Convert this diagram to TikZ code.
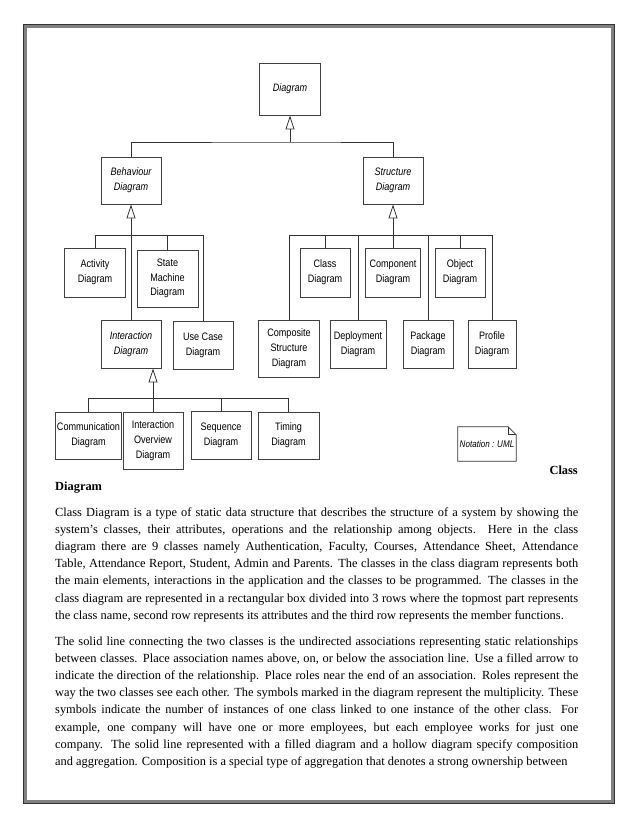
\documentclass[tikz,border=0pt]{standalone}
\usepackage{fontspec}
\setmainfont{Liberation Serif}
\newfontfamily\boxfont[FakeStretch=0.84]{Liberation Sans}
\usetikzlibrary{arrows.meta}

\begin{document}
\begin{tikzpicture}[x=1pt,y=-1pt,
    box/.style={draw=black!75,line width=0.9pt,align=center,inner sep=1pt,font=\boxfont\fontsize{10.8}{14.8}\selectfont},
    abs/.style={box,font=\boxfont\itshape\fontsize{10.8}{14.8}\selectfont},
    gen/.style={draw=black!80,line width=0.8pt,-{Triangle[open,length=14pt,width=9pt]}},
    link/.style={draw=black!80,line width=0.8pt},
    body/.style={anchor=base west,inner sep=0pt,text width=523pt,align=justify,font=\fontsize{12.4}{17.2}\selectfont}]
		\useasboundingbox (0,0) rectangle (638,826);
		\draw[line width=3.2pt,black!50] (25,26) rectangle (613,802);
		\draw[line width=0.6pt,black!80] (23.5,24.5) rectangle (614.5,803.5);

		\node[abs,minimum width=61pt,minimum height=52pt] (diag) at (290,89) {Diagram};
		\node[abs,minimum width=60pt,minimum height=47pt] (beh) at (131,180.5) {Behaviour\\Diagram};
		\node[abs,minimum width=60pt,minimum height=47pt] (str) at (393,180.5) {Structure\\Diagram};

		\node[box,minimum width=61pt,minimum height=49pt] (act) at (95,272.5) {Activity\\Diagram};
		\node[box,minimum width=61pt,minimum height=57pt] (sm) at (167.5,278.5) {State\\Machine\\Diagram};
		\node[abs,minimum width=60pt,minimum height=48pt] (inter) at (131,344) {Interaction\\Diagram};
		\node[box,minimum width=60pt,minimum height=48pt] (uc) at (203,345) {Use Case\\Diagram};

		\node[box,minimum width=50pt,minimum height=49pt] (cls) at (325,272.5) {Class\\Diagram};
		\node[box,minimum width=55pt,minimum height=49pt] (comp) at (393,272.5) {Component\\Diagram};
		\node[box,minimum width=50pt,minimum height=49pt] (obj) at (460,272.5) {Object\\Diagram};
		\node[box,minimum width=61pt,minimum height=57pt] (cs) at (289,348.5) {Composite\\Structure\\Diagram};
		\node[box,minimum width=56pt,minimum height=48pt] (dep) at (358,344) {Deployment\\Diagram};
		\node[box,minimum width=50pt,minimum height=48pt] (pkg) at (428,344) {Package\\Diagram};
		\node[box,minimum width=48pt,minimum height=48pt] (prof) at (492,344) {Profile\\Diagram};

		\node[box,minimum width=66pt,minimum height=47pt] (comm) at (88.5,435.5) {Communication\\Diagram};
		\node[box,minimum width=60pt,minimum height=57pt] (io) at (153,440.5) {Interaction\\Overview\\Diagram};
		\node[box,minimum width=60pt,minimum height=48pt] (seq) at (221,435) {Sequence\\Diagram};
		\node[box,minimum width=61pt,minimum height=47pt] (tim) at (288.5,435.5) {Timing\\Diagram};

		\coordinate (topbar) at (290,142);
		\draw[gen] (topbar) -- (diag.south);
		\draw[link] (beh.north) |- (topbar) -| (str.north);

		\coordinate (behbar) at (131,235);
		\draw[gen] (inter.north) -- (beh.south);
		\draw[link] (act.north) |- (uc.north |- behbar) -- (uc.north);
		\draw[link] (sm.north) -- (sm.north |- behbar);

		\coordinate (strbar) at (393,235);
		\draw[gen] (comp.north) -- (str.south);
		\draw[link] (cs.north) |- (prof.north |- strbar) -- (prof.north);
		\draw[link] (cls.north) -- (cls.north |- strbar);
		\draw[link] (obj.north) -- (obj.north |- strbar);
		\draw[link] (dep.north) -- (dep.north |- strbar);
		\draw[link] (pkg.north) -- (pkg.north |- strbar);

		\coordinate (interbar) at (153,398);
		\draw[gen] (io.north) -- (io.north |- inter.south);
		\draw[link] (comm.north) |- (tim.north |- interbar) -- (tim.north);
		\draw[link] (seq.north) -- (seq.north |- interbar);

		\node[font=\boxfont\itshape\fontsize{9.6}{11}\selectfont,minimum width=58pt,minimum height=34pt,inner sep=1pt] (note) at (487,444) {Notation : UML};
		\draw[link,line width=0.7pt] (note.south west) -- (note.north west) -- ([xshift=-8pt]note.north east) -- ([yshift=-8pt]note.north east) -- (note.south east) -- cycle;
		\draw[link,line width=0.7pt] ([xshift=-8pt]note.north east) |- ([yshift=-8pt]note.north east);

		\node[anchor=base east,inner sep=0pt,font=\bfseries\fontsize{12.4}{14}\selectfont] (ttl) at (578,474) {Class};
		\node[anchor=base west,inner sep=0pt,font=\bfseries\fontsize{12.4}{14}\selectfont] (ttl2) at (55,490) {Diagram};

		\node[body] (para1) at (55,516) {\tolerance=10000\hyphenpenalty=10000\parfillskip=0pt
		Class Diagram is a type of static data structure that describes the structure of a system by showing the\linebreak
		system's classes, their attributes, operations and the relationship among objects. Here in the class\linebreak
		diagram there are 9 classes namely Authentication, Faculty, Courses, Attendance Sheet, Attendance\linebreak
		Table, Attendance Report, Student, Admin and Parents. The classes in the class diagram represents both\linebreak
		the main elements, interactions in the application and the classes to be programmed. The classes in the\linebreak
		class diagram are represented in a rectangular box divided into 3 rows where the topmost part represents\linebreak
		the class name, second row represents its attributes and the third row represents the member functions.};

		\node[body] (para2) at (55,645) {\tolerance=10000\hyphenpenalty=10000\parfillskip=0pt
		The solid line connecting the two classes is the undirected associations representing static relationships\linebreak
		between classes. Place association names above, on, or below the association line. Use a filled arrow to\linebreak
		indicate the direction of the relationship. Place roles near the end of an association. Roles represent the\linebreak
		way the two classes see each other. The symbols marked in the diagram represent the multiplicity. These\linebreak
		symbols indicate the number of instances of one class linked to one instance of the other class. For\linebreak
		example, one company will have one or more employees, but each employee works for just one\linebreak
		company. The solid line represented with a filled diagram and a hollow diagram specify composition\linebreak
		and aggregation. Composition is a special type of aggregation that denotes a strong ownership between};
\end{tikzpicture}
\end{document}
